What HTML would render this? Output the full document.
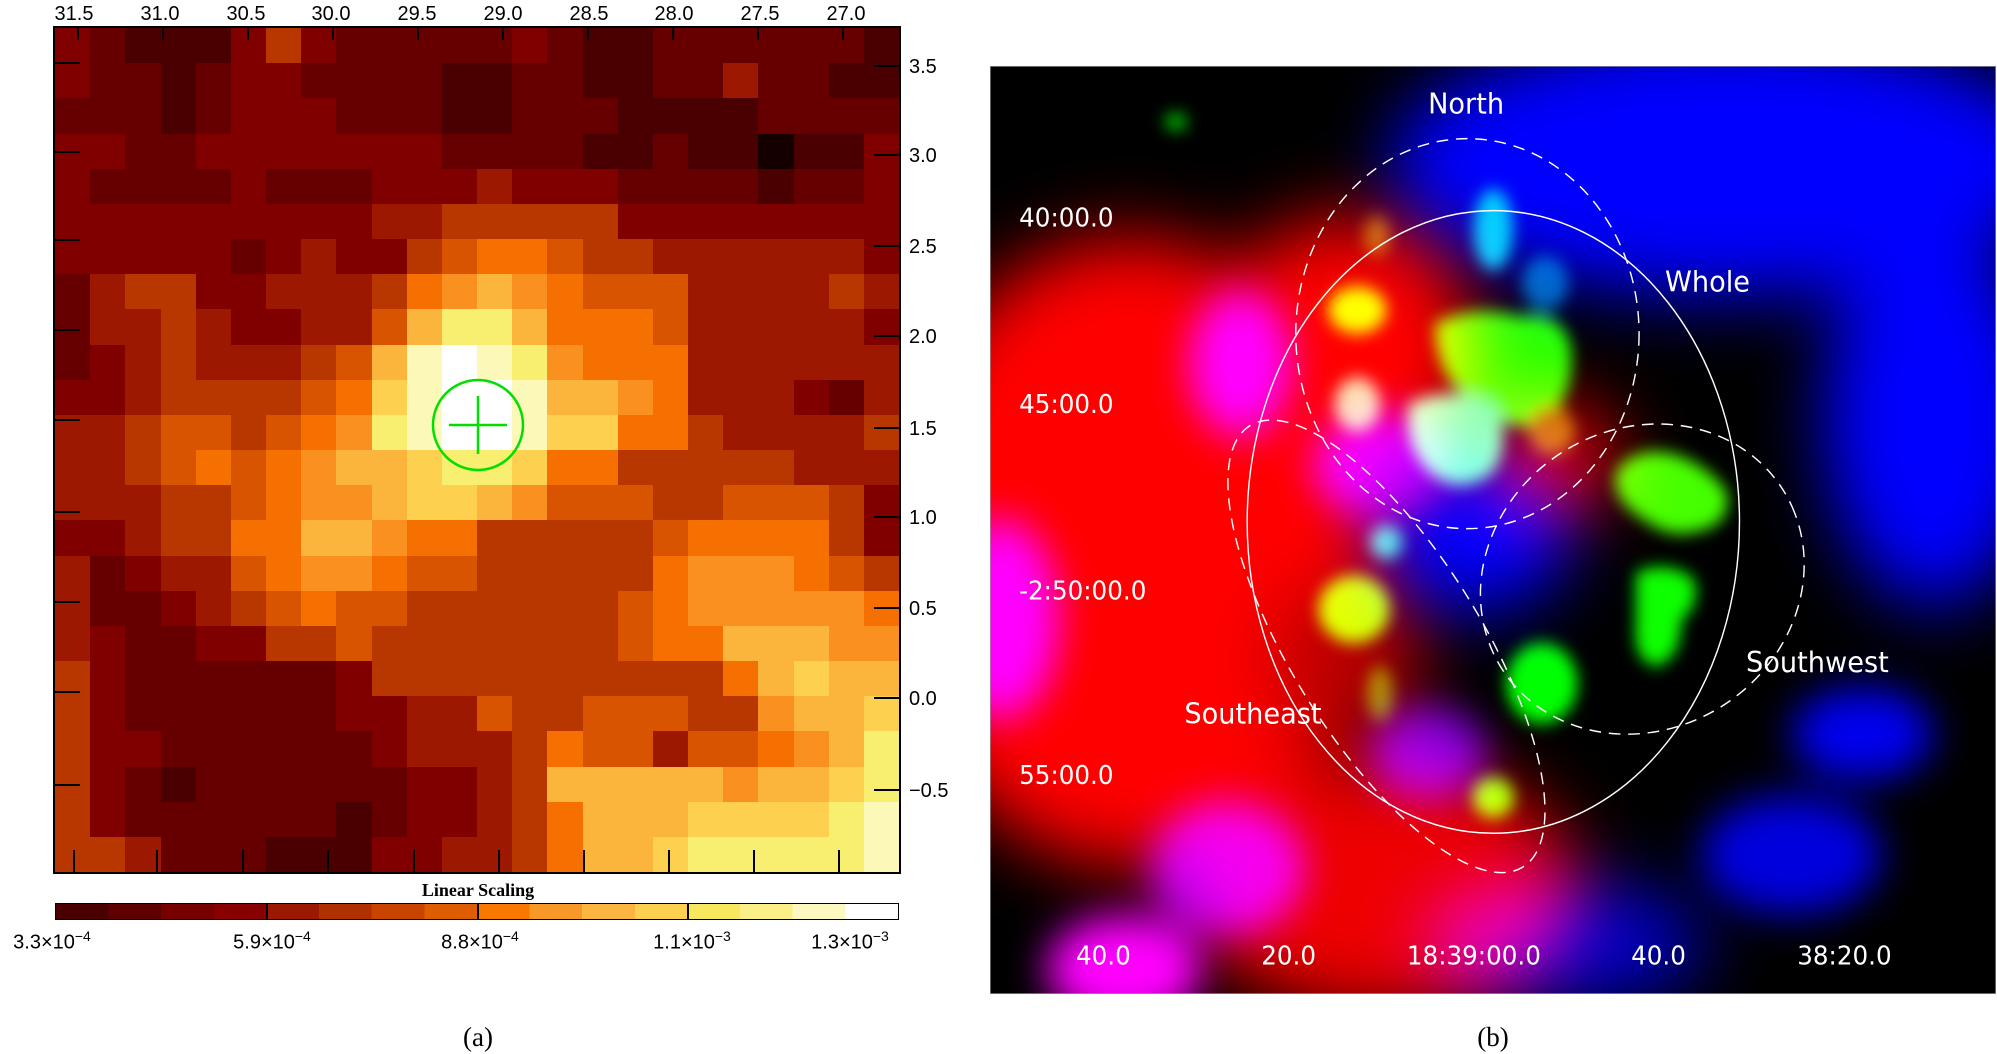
<!DOCTYPE html>
<html><head><meta charset="utf-8"><style>
html,body{margin:0;padding:0;background:#fff;}
body{width:1997px;height:1054px;position:relative;overflow:hidden;font-family:"Liberation Sans",sans-serif;}
#grid{position:absolute;left:55px;top:28px;width:844px;height:844px;display:grid;grid-template-columns:repeat(24,1fr);grid-template-rows:repeat(24,1fr);outline:2px solid #000;}
#grid i{display:block;}
.c0{background:#4a0000}.c1{background:#660000}.c2{background:#800000}.c3{background:#9c1800}.c4{background:#b83600}.c5{background:#d85400}.c6{background:#f57000}.c7{background:#f99020}.c8{background:#fbb43c}.c9{background:#fdd050}.c10{background:#f8ee70}.c11{background:#fbf8b8}.c12{background:#ffffff}.cb{background:#150000}
.tk{position:absolute;background:#000;}
#cbar{position:absolute;left:55px;top:903px;width:844px;height:17px;border:1.5px solid #000;box-sizing:border-box;background:linear-gradient(to right,#4a0000 0 6.25%,#5e0000 6.25% 12.5%,#760000 12.5% 18.75%,#880000 18.75% 25%,#9c1800 25% 31.25%,#b03000 31.25% 37.5%,#c84400 37.5% 43.75%,#e05c00 43.75% 50%,#f87800 50% 56.25%,#f89828 56.25% 62.5%,#fbb540 62.5% 68.75%,#fdd050 68.75% 75%,#f8e860 75% 81.25%,#fbf088 81.25% 87.5%,#fdf8c0 87.5% 93.75%,#fff 93.75% 100%);}
.cl{position:absolute;top:928px;font-size:20px;white-space:nowrap;transform:translateX(-50%);}
.cl sup{font-size:14px;}
.cap{position:absolute;top:1022px;font-family:"Liberation Serif",serif;font-size:27px;transform:translateX(-50%);}
</style></head><body>
<div id="grid">
<i class=c2></i><i class=c1></i><i class=c0></i><i class=c0></i><i class=c0></i><i class=c2></i><i class=c4></i><i class=c2></i><i class=c1></i><i class=c1></i><i class=c1></i><i class=c1></i><i class=c1></i><i class=c2></i><i class=c1></i><i class=c0></i><i class=c0></i><i class=c1></i><i class=c1></i><i class=c1></i><i class=c1></i><i class=c1></i><i class=c1></i><i class=c0></i>
<i class=c2></i><i class=c1></i><i class=c1></i><i class=c0></i><i class=c1></i><i class=c2></i><i class=c2></i><i class=c1></i><i class=c1></i><i class=c1></i><i class=c1></i><i class=c0></i><i class=c0></i><i class=c1></i><i class=c1></i><i class=c0></i><i class=c0></i><i class=c1></i><i class=c1></i><i class=c3></i><i class=c1></i><i class=c1></i><i class=c0></i><i class=c0></i>
<i class=c1></i><i class=c1></i><i class=c1></i><i class=c0></i><i class=c1></i><i class=c2></i><i class=c2></i><i class=c2></i><i class=c1></i><i class=c1></i><i class=c1></i><i class=c0></i><i class=c0></i><i class=c1></i><i class=c1></i><i class=c1></i><i class=c0></i><i class=c0></i><i class=c0></i><i class=c0></i><i class=c1></i><i class=c1></i><i class=c1></i><i class=c1></i>
<i class=c2></i><i class=c2></i><i class=c1></i><i class=c1></i><i class=c2></i><i class=c2></i><i class=c2></i><i class=c2></i><i class=c2></i><i class=c2></i><i class=c2></i><i class=c1></i><i class=c1></i><i class=c1></i><i class=c1></i><i class=c0></i><i class=c0></i><i class=c1></i><i class=c0></i><i class=c0></i><i class=cb></i><i class=c0></i><i class=c0></i><i class=c2></i>
<i class=c2></i><i class=c1></i><i class=c1></i><i class=c1></i><i class=c1></i><i class=c2></i><i class=c1></i><i class=c1></i><i class=c1></i><i class=c2></i><i class=c2></i><i class=c2></i><i class=c3></i><i class=c2></i><i class=c2></i><i class=c2></i><i class=c1></i><i class=c1></i><i class=c1></i><i class=c1></i><i class=c0></i><i class=c1></i><i class=c1></i><i class=c2></i>
<i class=c2></i><i class=c2></i><i class=c2></i><i class=c2></i><i class=c2></i><i class=c2></i><i class=c2></i><i class=c2></i><i class=c2></i><i class=c3></i><i class=c3></i><i class=c4></i><i class=c4></i><i class=c4></i><i class=c4></i><i class=c4></i><i class=c2></i><i class=c2></i><i class=c2></i><i class=c2></i><i class=c2></i><i class=c2></i><i class=c2></i><i class=c2></i>
<i class=c2></i><i class=c2></i><i class=c2></i><i class=c2></i><i class=c2></i><i class=c1></i><i class=c2></i><i class=c3></i><i class=c2></i><i class=c2></i><i class=c4></i><i class=c5></i><i class=c6></i><i class=c6></i><i class=c5></i><i class=c4></i><i class=c4></i><i class=c3></i><i class=c3></i><i class=c3></i><i class=c3></i><i class=c3></i><i class=c3></i><i class=c2></i>
<i class=c1></i><i class=c3></i><i class=c4></i><i class=c4></i><i class=c2></i><i class=c2></i><i class=c3></i><i class=c3></i><i class=c3></i><i class=c4></i><i class=c6></i><i class=c7></i><i class=c8></i><i class=c7></i><i class=c6></i><i class=c5></i><i class=c5></i><i class=c5></i><i class=c3></i><i class=c3></i><i class=c3></i><i class=c3></i><i class=c4></i><i class=c3></i>
<i class=c1></i><i class=c3></i><i class=c3></i><i class=c4></i><i class=c3></i><i class=c2></i><i class=c2></i><i class=c3></i><i class=c3></i><i class=c5></i><i class=c8></i><i class=c10></i><i class=c10></i><i class=c8></i><i class=c6></i><i class=c6></i><i class=c6></i><i class=c5></i><i class=c3></i><i class=c3></i><i class=c3></i><i class=c3></i><i class=c3></i><i class=c2></i>
<i class=c1></i><i class=c2></i><i class=c3></i><i class=c4></i><i class=c3></i><i class=c3></i><i class=c3></i><i class=c4></i><i class=c5></i><i class=c8></i><i class=c11></i><i class=c12></i><i class=c11></i><i class=c10></i><i class=c7></i><i class=c6></i><i class=c6></i><i class=c6></i><i class=c3></i><i class=c3></i><i class=c3></i><i class=c3></i><i class=c3></i><i class=c3></i>
<i class=c2></i><i class=c2></i><i class=c3></i><i class=c4></i><i class=c4></i><i class=c4></i><i class=c4></i><i class=c5></i><i class=c6></i><i class=c9></i><i class=c11></i><i class=c12></i><i class=c12></i><i class=c11></i><i class=c8></i><i class=c8></i><i class=c7></i><i class=c6></i><i class=c3></i><i class=c3></i><i class=c3></i><i class=c2></i><i class=c1></i><i class=c3></i>
<i class=c3></i><i class=c3></i><i class=c4></i><i class=c5></i><i class=c5></i><i class=c4></i><i class=c5></i><i class=c6></i><i class=c7></i><i class=c10></i><i class=c11></i><i class=c12></i><i class=c12></i><i class=c11></i><i class=c9></i><i class=c9></i><i class=c6></i><i class=c6></i><i class=c4></i><i class=c3></i><i class=c3></i><i class=c3></i><i class=c3></i><i class=c4></i>
<i class=c3></i><i class=c3></i><i class=c4></i><i class=c5></i><i class=c6></i><i class=c5></i><i class=c6></i><i class=c7></i><i class=c8></i><i class=c8></i><i class=c9></i><i class=c10></i><i class=c10></i><i class=c9></i><i class=c6></i><i class=c6></i><i class=c4></i><i class=c4></i><i class=c4></i><i class=c4></i><i class=c4></i><i class=c3></i><i class=c3></i><i class=c3></i>
<i class=c3></i><i class=c3></i><i class=c3></i><i class=c4></i><i class=c4></i><i class=c5></i><i class=c6></i><i class=c7></i><i class=c7></i><i class=c8></i><i class=c9></i><i class=c9></i><i class=c8></i><i class=c7></i><i class=c5></i><i class=c5></i><i class=c5></i><i class=c4></i><i class=c4></i><i class=c5></i><i class=c5></i><i class=c5></i><i class=c4></i><i class=c2></i>
<i class=c2></i><i class=c2></i><i class=c3></i><i class=c4></i><i class=c4></i><i class=c6></i><i class=c6></i><i class=c8></i><i class=c8></i><i class=c7></i><i class=c6></i><i class=c6></i><i class=c4></i><i class=c4></i><i class=c4></i><i class=c4></i><i class=c4></i><i class=c5></i><i class=c6></i><i class=c6></i><i class=c6></i><i class=c6></i><i class=c4></i><i class=c2></i>
<i class=c3></i><i class=c1></i><i class=c2></i><i class=c3></i><i class=c3></i><i class=c5></i><i class=c6></i><i class=c7></i><i class=c7></i><i class=c6></i><i class=c5></i><i class=c5></i><i class=c4></i><i class=c4></i><i class=c4></i><i class=c4></i><i class=c4></i><i class=c6></i><i class=c7></i><i class=c7></i><i class=c7></i><i class=c6></i><i class=c5></i><i class=c4></i>
<i class=c3></i><i class=c1></i><i class=c1></i><i class=c2></i><i class=c3></i><i class=c4></i><i class=c5></i><i class=c6></i><i class=c5></i><i class=c5></i><i class=c4></i><i class=c4></i><i class=c4></i><i class=c4></i><i class=c4></i><i class=c4></i><i class=c5></i><i class=c6></i><i class=c7></i><i class=c7></i><i class=c7></i><i class=c7></i><i class=c7></i><i class=c6></i>
<i class=c3></i><i class=c2></i><i class=c1></i><i class=c1></i><i class=c2></i><i class=c2></i><i class=c4></i><i class=c4></i><i class=c5></i><i class=c4></i><i class=c4></i><i class=c4></i><i class=c4></i><i class=c4></i><i class=c4></i><i class=c4></i><i class=c5></i><i class=c6></i><i class=c6></i><i class=c8></i><i class=c8></i><i class=c8></i><i class=c7></i><i class=c7></i>
<i class=c4></i><i class=c2></i><i class=c1></i><i class=c1></i><i class=c1></i><i class=c1></i><i class=c1></i><i class=c1></i><i class=c2></i><i class=c4></i><i class=c4></i><i class=c4></i><i class=c4></i><i class=c4></i><i class=c4></i><i class=c4></i><i class=c4></i><i class=c4></i><i class=c4></i><i class=c6></i><i class=c8></i><i class=c9></i><i class=c8></i><i class=c8></i>
<i class=c4></i><i class=c2></i><i class=c1></i><i class=c1></i><i class=c1></i><i class=c1></i><i class=c1></i><i class=c1></i><i class=c2></i><i class=c2></i><i class=c3></i><i class=c3></i><i class=c5></i><i class=c4></i><i class=c4></i><i class=c5></i><i class=c5></i><i class=c5></i><i class=c4></i><i class=c4></i><i class=c7></i><i class=c8></i><i class=c8></i><i class=c9></i>
<i class=c4></i><i class=c2></i><i class=c2></i><i class=c1></i><i class=c1></i><i class=c1></i><i class=c1></i><i class=c1></i><i class=c1></i><i class=c2></i><i class=c3></i><i class=c3></i><i class=c3></i><i class=c4></i><i class=c6></i><i class=c5></i><i class=c5></i><i class=c3></i><i class=c5></i><i class=c5></i><i class=c6></i><i class=c7></i><i class=c8></i><i class=c10></i>
<i class=c4></i><i class=c2></i><i class=c1></i><i class=c0></i><i class=c1></i><i class=c1></i><i class=c1></i><i class=c1></i><i class=c1></i><i class=c1></i><i class=c2></i><i class=c2></i><i class=c3></i><i class=c4></i><i class=c8></i><i class=c8></i><i class=c8></i><i class=c8></i><i class=c8></i><i class=c7></i><i class=c8></i><i class=c8></i><i class=c9></i><i class=c10></i>
<i class=c4></i><i class=c2></i><i class=c1></i><i class=c1></i><i class=c1></i><i class=c1></i><i class=c1></i><i class=c1></i><i class=c0></i><i class=c1></i><i class=c2></i><i class=c2></i><i class=c3></i><i class=c4></i><i class=c6></i><i class=c8></i><i class=c8></i><i class=c8></i><i class=c9></i><i class=c9></i><i class=c9></i><i class=c9></i><i class=c10></i><i class=c11></i>
<i class=c4></i><i class=c4></i><i class=c3></i><i class=c1></i><i class=c1></i><i class=c1></i><i class=c0></i><i class=c0></i><i class=c0></i><i class=c2></i><i class=c2></i><i class=c3></i><i class=c3></i><i class=c4></i><i class=c6></i><i class=c8></i><i class=c8></i><i class=c9></i><i class=c10></i><i class=c10></i><i class=c10></i><i class=c10></i><i class=c10></i><i class=c11></i>
</div>
<svg style="position:absolute;left:0;top:0" width="1000" height="1000">
<g fill="none" stroke="#00e000" stroke-width="2.5">
<circle cx="478" cy="425" r="45"/><line x1="449" y1="425" x2="507" y2="425"/><line x1="478" y1="396" x2="478" y2="454"/>
</g>
<g stroke="#000" stroke-width="2">
<line x1="78" y1="28" x2="78" y2="40"/><line x1="163" y1="28" x2="163" y2="40"/><line x1="248" y1="28" x2="248" y2="40"/><line x1="333" y1="28" x2="333" y2="40"/><line x1="418" y1="28" x2="418" y2="40"/><line x1="503" y1="28" x2="503" y2="40"/><line x1="588" y1="28" x2="588" y2="40"/><line x1="673" y1="28" x2="673" y2="40"/><line x1="758" y1="28" x2="758" y2="40"/><line x1="843" y1="28" x2="843" y2="40"/>
<line x1="74" y1="872" x2="74" y2="850"/><line x1="157" y1="872" x2="157" y2="850"/><line x1="243" y1="872" x2="243" y2="850"/><line x1="328" y1="872" x2="328" y2="850"/><line x1="414" y1="872" x2="414" y2="850"/><line x1="499" y1="872" x2="499" y2="850"/><line x1="584" y1="872" x2="584" y2="850"/><line x1="669" y1="872" x2="669" y2="850"/><line x1="754" y1="872" x2="754" y2="850"/><line x1="839" y1="872" x2="839" y2="850"/>
<line x1="55" y1="63" x2="80" y2="63"/><line x1="55" y1="152" x2="80" y2="152"/><line x1="55" y1="240" x2="80" y2="240"/><line x1="55" y1="330" x2="80" y2="330"/><line x1="55" y1="420" x2="80" y2="420"/><line x1="55" y1="512" x2="80" y2="512"/><line x1="55" y1="602" x2="80" y2="602"/><line x1="55" y1="692" x2="80" y2="692"/><line x1="55" y1="785" x2="80" y2="785"/>
<line x1="874" y1="66" x2="899" y2="66"/><line x1="874" y1="155" x2="899" y2="155"/><line x1="874" y1="246" x2="899" y2="246"/><line x1="874" y1="336" x2="899" y2="336"/><line x1="874" y1="428" x2="899" y2="428"/><line x1="874" y1="517" x2="899" y2="517"/><line x1="874" y1="608" x2="899" y2="608"/><line x1="874" y1="698" x2="899" y2="698"/><line x1="874" y1="790" x2="899" y2="790"/>
</g>
<g font-family="Liberation Sans, sans-serif" font-size="20" text-anchor="middle">
<text x="74" y="20">31.5</text><text x="160" y="20">31.0</text><text x="246" y="20">30.5</text><text x="331" y="20">30.0</text><text x="417" y="20">29.5</text><text x="503" y="20">29.0</text><text x="589" y="20">28.5</text><text x="674" y="20">28.0</text><text x="760" y="20">27.5</text><text x="846" y="20">27.0</text>
</g>
<g font-family="Liberation Sans, sans-serif" font-size="20">
<text x="909" y="73">3.5</text><text x="909" y="162">3.0</text><text x="909" y="253">2.5</text><text x="909" y="343">2.0</text><text x="909" y="435">1.5</text><text x="909" y="524">1.0</text><text x="909" y="615">0.5</text><text x="909" y="705">0.0</text><text x="909" y="797">−0.5</text>
</g>
<text x="478" y="896" font-family="Liberation Serif, serif" font-weight="bold" font-size="18" text-anchor="middle">Linear Scaling</text>
</svg>
<div id="cbar"></div>
<div class="tk" style="left:266px;top:903px;width:2px;height:17px"></div>
<div class="tk" style="left:477px;top:903px;width:2px;height:17px"></div>
<div class="tk" style="left:687px;top:903px;width:2px;height:17px"></div>
<div class="cl" style="left:52px">3.3×10<sup>−4</sup></div>
<div class="cl" style="left:272px">5.9×10<sup>−4</sup></div>
<div class="cl" style="left:480px">8.8×10<sup>−4</sup></div>
<div class="cl" style="left:692px">1.1×10<sup>−3</sup></div>
<div class="cl" style="left:850px">1.3×10<sup>−3</sup></div>
<div class="cap" style="left:478px">(a)</div>

<svg style="position:absolute;left:990px;top:66px" width="1006" height="928" viewBox="13 97 1553 1380" preserveAspectRatio="none">
<defs>
<filter id="b1" x="-50%" y="-50%" width="200%" height="200%"><feGaussianBlur stdDeviation="55"/></filter>
<filter id="b3" x="-50%" y="-50%" width="200%" height="200%"><feGaussianBlur stdDeviation="30"/></filter>
<filter id="b2" x="-50%" y="-50%" width="200%" height="200%"><feGaussianBlur stdDeviation="12"/></filter>
<clipPath id="cp"><rect x="13" y="97" width="1553" height="1380"/></clipPath>
</defs>
<g clip-path="url(#cp)">
<rect x="0" y="0" width="1600" height="1500" fill="#000"/>
<g filter="url(#b1)" style="mix-blend-mode:screen">
<ellipse cx="230" cy="820" rx="380" ry="470" fill="#ff0000"/>
<ellipse cx="620" cy="1320" rx="300" ry="190" fill="#ee0000"/>
<ellipse cx="560" cy="520" rx="200" ry="200" fill="#ff0000"/>
<ellipse cx="880" cy="680" rx="110" ry="90" fill="#cc0000"/>
<ellipse cx="560" cy="980" rx="120" ry="120" fill="#bb0000"/>
</g>
<g filter="url(#b1)" style="mix-blend-mode:screen">
<ellipse cx="1150" cy="240" rx="520" ry="200" fill="#0000ff"/>
<ellipse cx="1470" cy="620" rx="170" ry="280" fill="#0000ff"/>
<ellipse cx="760" cy="790" rx="150" ry="120" fill="#0000ff"/>
<ellipse cx="900" cy="1400" rx="220" ry="90" fill="#0000cc"/>
</g>
<g filter="url(#b3)" style="mix-blend-mode:screen">
<ellipse cx="1360" cy="1090" rx="110" ry="70" fill="#0000ee"/>
<ellipse cx="1250" cy="1270" rx="140" ry="90" fill="#0000dd"/>
<ellipse cx="380" cy="1290" rx="120" ry="100" fill="#8800ee"/>
<ellipse cx="690" cy="1120" rx="90" ry="70" fill="#6600dd"/>
<ellipse cx="30" cy="920" rx="90" ry="150" fill="#ee00ff"/>
<ellipse cx="220" cy="1440" rx="120" ry="80" fill="#ff00ff"/>
<ellipse cx="400" cy="540" rx="80" ry="110" fill="#dd00ff"/>
<ellipse cx="620" cy="690" rx="110" ry="80" fill="#8800ff"/>
</g>
<g filter="url(#b2)" style="mix-blend-mode:screen">
<path d="M980 700 Q1010 660 1070 675 Q1120 690 1150 730 Q1160 780 1100 790 Q1060 800 1020 770 Q970 740 980 700Z" fill="#44ff00"/>
<path d="M1010 850 Q1060 830 1100 860 Q1110 900 1080 920 Q1080 980 1040 990 Q1005 980 1010 930 Z" fill="#11ff00"/>
<ellipse cx="865" cy="1015" rx="55" ry="60" fill="#00ff00"/>
<ellipse cx="575" cy="905" rx="55" ry="50" fill="#88ff00"/>
<ellipse cx="615" cy="1030" rx="20" ry="40" fill="#448800"/>
<ellipse cx="790" cy="1185" rx="32" ry="30" fill="#66ff00"/>
<path d="M700 480 Q760 450 830 470 Q900 460 910 520 Q915 600 860 630 Q800 640 760 600 Q700 560 700 480Z" fill="#22ff00"/>
<ellipse cx="580" cy="460" rx="45" ry="35" fill="#ffff00"/>
<ellipse cx="610" cy="350" rx="20" ry="30" fill="#886600"/>
<path d="M660 600 Q720 570 790 600 Q820 650 790 700 Q740 740 690 700 Q650 660 660 600Z" fill="#44ffaa"/>
<ellipse cx="790" cy="340" rx="30" ry="60" fill="#00ccff"/>
<ellipse cx="870" cy="420" rx="35" ry="40" fill="#0066aa"/>
<ellipse cx="625" cy="805" rx="25" ry="25" fill="#00dddd"/>
<ellipse cx="580" cy="600" rx="35" ry="40" fill="#77ddaa"/>
<ellipse cx="300" cy="180" rx="18" ry="12" fill="#00cc00"/>
<ellipse cx="880" cy="640" rx="35" ry="35" fill="#aa7700"/>
</g>
<g fill="none" stroke="#fff" stroke-width="2.2">
<ellipse cx="790" cy="775" rx="380" ry="463"/>
<ellipse cx="750" cy="495" rx="265" ry="290" stroke-dasharray="18 12"/>
<ellipse cx="1020" cy="860" rx="255" ry="225" transform="rotate(-25 1020 860)" stroke-dasharray="18 12"/>
<ellipse cx="625" cy="960" rx="390" ry="145" transform="rotate(57 625 960)" stroke-dasharray="18 12"/>
</g>
<g fill="#fff" font-family="DejaVu Sans, sans-serif" font-size="42">
<text x="748" y="168" text-anchor="middle">North</text>
<text x="1055" y="432">Whole</text>
<text x="1180" y="998">Southwest</text>
<text x="313" y="1075">Southeast</text>
<text x="58" y="336" font-size="38">40:00.0</text>
<text x="58" y="613" font-size="38">45:00.0</text>
<text x="58" y="890" font-size="38">-2:50:00.0</text>
<text x="58" y="1165" font-size="38">55:00.0</text>
<g font-size="38" text-anchor="middle">
<text x="188" y="1433">40.0</text><text x="474" y="1433">20.0</text><text x="760" y="1433">18:39:00.0</text><text x="1045" y="1433">40.0</text><text x="1332" y="1433">38:20.0</text>
</g>
</g>
</g>
<rect x="13" y="97" width="1553" height="1380" fill="none" stroke="#999" stroke-width="2"/>
</svg>
<div class="cap" style="left:1493px">(b)</div>
</body></html>
